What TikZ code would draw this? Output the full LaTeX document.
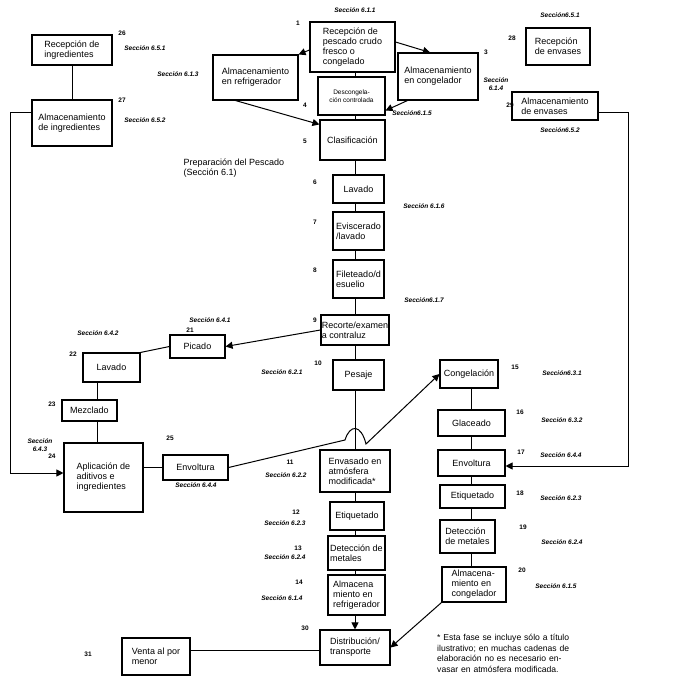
\documentclass[tikz,border=0pt]{standalone}
\usepackage{fontspec}
\setmainfont{Liberation Sans}
\usetikzlibrary{arrows.meta}
\begin{document}
\begin{tikzpicture}[x=1pt,y=-1pt,
  bx/.style={draw,line width=1.1pt,inner sep=1pt,align=left,font=\fontsize{9}{10}\selectfont},
  sec/.style={font=\fontsize{6.5}{7.5}\selectfont\bfseries\itshape,align=left},
  num/.style={font=\fontsize{6.5}{7}\selectfont\bfseries},
  ln/.style={line width=1pt},
  ar/.style={line width=1pt,-{Triangle[length=7pt,width=7pt]}}]
\useasboundingbox (0,0) rectangle (676,696);
\fill[white] (0,0) rectangle (676,696);
\coordinate (mx) at (355,0);
\coordinate (rx) at (471,0);
\coordinate (lx) at (97,0);
% boxes
\def\B#1#2#3#4#5#6{\node[bx,minimum width={#4-#2},minimum height={#5-#3}] (#1) at ({(#2+#4)/2},{(#3+#5)/2}) {#6};}
\B{r26}{32}{35}{112}{65}{Recepción de\\ingredientes}
\B{r27}{32}{100}{112}{146}{Almacenamiento\\de ingredientes}
\B{r1}{310}{22}{395}{72}{Recepción de\\pescado crudo\\fresco o\\congelado}
\B{rref}{213}{55}{298}{100}{Almacenamiento\\en refrigerador}
\B{r3}{398}{53}{478}{100}{Almacenamiento\\en congelador}
\node[draw,line width=1.1pt,minimum width=67,minimum height=38,align=center,font=\fontsize{6.5}{8}\selectfont] (r4) at (351.5,96) {Descongela-\\ción controlada};
\B{r5}{320}{120}{385}{160}{Clasificación}
\B{r6}{333}{175}{384}{203}{Lavado}
\B{r7}{333}{212}{384}{250}{Eviscerado\\/lavado}
\B{r8}{333}{260}{384}{298}{Fileteado/d\\esuelio}
\B{r9}{325}{315}{385}{345}{Recorte/examen\\a contraluz}
\B{r10}{333}{360}{384}{390}{Pesaje}
\B{r11}{320}{450}{390}{492}{Envasado en\\atmósfera\\modificada*}
\B{r12}{330}{502}{384}{530}{Etiquetado}
\B{r13}{328}{536}{385}{570}{Detección de\\metales}
\B{r14}{328}{575}{385}{615}{Almacena\\miento en\\refrigerador}
\B{r30}{320}{630}{390}{665}{Distribución/\\transporte}
\B{r31}{122}{638}{190}{675}{Venta al por\\menor}
\B{r21}{170}{335}{225}{358}{Picado}
\B{r22}{83}{353}{140}{382}{Lavado}
\B{r23}{62}{400}{117}{421}{Mezclado}
\B{r24}{64}{443}{143}{512}{Aplicación de\\aditivos e\\ingredientes}
\B{r25}{163}{455}{228}{480}{Envoltura}
\B{r15}{440}{360}{498}{388}{Congelación}
\B{r16}{438}{410}{505}{436}{Glaceado}
\B{r17}{438}{450}{505}{476}{Envoltura}
\B{r18}{440}{485}{505}{508}{Etiquetado}
\B{r19}{440}{520}{495}{553}{Detección\\de metales}
\B{r20}{442}{567}{506}{602}{Almacena-\\miento en\\congelador}
\B{r28}{526}{28}{590}{65}{Recepción\\de envases}
\B{r29}{512}{92}{598}{120}{Almacenamiento\\de envases}
% texts
\node[font=\fontsize{9}{10}\selectfont,align=left,anchor=north west] (prep) at (180,155) {Preparación del Pescado\\(Sección 6.1)};
\node[font=\fontsize{8.6}{10.5}\selectfont,align=left,anchor=north west,text width=140,inner sep=0pt] (foot) at (437,634) {* Esta fase se incluye sólo a título ilustrativo; en muchas cadenas de elaboración no es necesario envasar en atmósfera modificada.};
% numbers
\foreach \n/\x/\y in {26/122/33,27/122/100,1/298/23,3/486/52,4/305/105,5/305/141,6/315/182,7/315/222,8/315/270,9/315/320,10/318/363,11/290/462,12/296/512,13/298/548,14/299/582,30/305/628,31/88/654,21/190/330,22/73/354,23/52/404,24/52/456,25/170/438,15/515/367,16/520/412,17/521/452,18/520/493,19/523/527,20/522/570,28/512/38,29/510/105}
  \node[num] (n\n) at (\x,\y) {\n};
% section labels
\foreach \t/\x/\y [count=\i] in {Sección 6.1.1/355/10,Sección 6.5.1/145/48,Sección 6.1.3/178/74,Sección 6.5.2/145/120,Sección6.1.5/412/113,Sección6.5.1/560/15,Sección6.5.2/560/130,Sección 6.1.6/424/206,Sección6.1.7/424/300,Sección 6.4.1/210/320,Sección 6.4.2/98/333,Sección 6.2.1/282/372,Sección 6.4.4/196/485,Sección 6.2.2/286/475,Sección6.3.1/562/373,Sección 6.3.2/562/420,Sección 6.4.4/561/455,Sección 6.2.3/561/498,Sección 6.2.4/562/542,Sección 6.1.5/556/586,Sección 6.2.3/285/523,Sección 6.2.4/285/557,Sección 6.1.4/282/598}
  \node[sec] (s\i) at (\x,\y) {\t};
\node[sec,align=center] (sa) at (496,84) {Sección\\6.1.4};
\node[sec,align=center] (sb) at (40,445) {Sección\\6.4.3};
% connectors
\draw[ln] (r1.south -| mx) -- (r4.north -| mx);
\foreach \a/\b in {r4/r5,r5/r6,r6/r7,r7/r8,r8/r9,r9/r10,r10/r11,r11/r12,r12/r13,r13/r14}
  \draw[ln] (\a.south -| mx) -- (\b.north -| mx);
\draw[ar] (r14.south -| mx) -- (r30.north -| mx);
\draw[ar] (r1.west |- 0,50) -- (rref.north east);
\draw[ar] (r1.east |- 0,42) -- ([xshift=-8pt]r3.north);
\draw[ar] (rref.south) ++(-20,0) -- ([yshift=-5pt]r5.north west);
\draw[ar] ([xshift=10pt]r3.south west) -- ([yshift=5pt]r4.south east);
\draw[ln] (r26) -- (r27);
\draw[ar] (r27.west |- 0,112) -| (10,473) -- (r24.west |- 0,473);
\draw[ar] (r29.east |- 0,112) -| (628,466) -- (r17.east |- 0,466);
\draw[ar] (r9.west) -- (r21.east);
\draw[ln] (r21.west) -- (r22.north east);
\draw[ln] (r22.south -| lx) -- (r23.north -| lx);
\draw[ln] (r23.south -| lx) -- (r24.north -| lx);
\draw[ln] (r24.east |- 0,467) -- (r25.west |- 0,467);
\draw[ar] (r25.east) -- (345,440) .. controls (350,424) and (361,424) .. (366,444) -- (r15.west);
\foreach \a/\b in {r15/r16,r16/r17,r17/r18,r18/r19,r19/r20}
  \draw[ln] (\a.south -| rx) -- (\b.north -| rx);
\draw[ar] (r20.south west) -- (r30.east);
\draw[ln] (r31.east |- 0,650) -- (r30.west |- 0,650);
\end{tikzpicture}
\end{document}
